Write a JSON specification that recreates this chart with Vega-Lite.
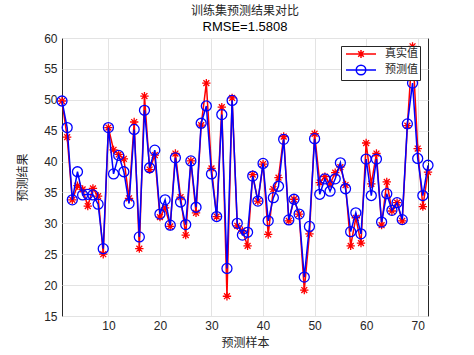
{
  "$schema": "https://vega.github.io/schema/vega-lite/v6.json",
  "width": 366,
  "height": 278,
  "autosize": {"type": "none"},
  "padding": {"left": 62, "top": 38, "right": 46, "bottom": 39},
  "background": "white",
  "title": {
    "text": "训练集预测结果对比",
    "subtitle": "RMSE=1.5808",
    "font": "Noto Sans CJK SC",
    "fontSize": 12,
    "fontWeight": "normal",
    "color": "#262626",
    "subtitleFont": "Liberation Sans",
    "subtitleFontSize": 13,
    "subtitleColor": "#000000",
    "subtitlePadding": 3,
    "offset": -3,
    "anchor": "middle",
    "frame": "group"
  },
  "config": {
    "view": {"stroke": "#262626", "strokeWidth": 1},
    "axis": {
      "domain": false,
      "ticks": false,
      "grid": true,
      "gridColor": "#e3e3e3",
      "gridWidth": 1,
      "labelOverlap": false,
      "labelFont": "Liberation Sans",
      "labelFontSize": 12,
      "labelColor": "#262626",
      "titleFont": "Noto Sans CJK SC",
      "titleFontSize": 12,
      "titleFontWeight": "normal",
      "titleColor": "#262626"
    }
  },
  "data": {
    "values": [
      {"i":1,"真实值":49.8,"预测值":49.8},{"i":2,"真实值":43.95,"预测值":45.5},{"i":3,"真实值":33.8,"预测值":33.8},{"i":4,"真实值":36.1,"预测值":38.35},
      {"i":5,"真实值":35.5,"预测值":34.6},{"i":6,"真实值":32.8,"预测值":34.7},{"i":7,"真实值":35.65,"预测值":34.6},{"i":8,"真实值":34.4,"预测值":33.1},
      {"i":9,"真实值":25.0,"预测值":25.9},{"i":10,"真实值":45.5,"预测值":45.5},{"i":11,"真实值":41.9,"预测值":38.0},{"i":12,"真实值":41.15,"预测值":41.0},
      {"i":13,"真实值":40.45,"预测值":38.35},{"i":14,"真实值":34.05,"预测值":33.2},{"i":15,"真实值":46.4,"预测值":45.2},{"i":16,"真实值":25.9,"预测值":27.8},
      {"i":17,"真实值":50.6,"预测值":48.3},{"i":18,"真实值":38.7,"预测值":39.0},{"i":19,"真实值":41.05,"预测值":41.85},{"i":20,"真实值":31.0,"预测值":31.5},
      {"i":21,"真实值":32.5,"预测值":33.8},{"i":22,"真实值":29.5,"预测值":29.7},{"i":23,"真实值":41.3,"预测值":40.6},{"i":24,"真实值":34.25,"预测值":33.45},
      {"i":25,"真实值":28.1,"预测值":29.8},{"i":26,"真实值":40.1,"预测值":40.1},{"i":27,"真实值":31.7,"预测值":32.6},{"i":28,"真实值":45.9,"预测值":46.2},
      {"i":29,"真实值":52.7,"预测值":49.0},{"i":30,"真实值":38.9,"预测值":38.0},{"i":31,"真实值":31.1,"预测值":31.1},{"i":32,"真实值":48.8,"预测值":47.6},
      {"i":33,"真实值":18.2,"预测值":22.7},{"i":34,"真实值":50.3,"预测值":49.9},{"i":35,"真实值":29.6,"预测值":30.0},{"i":36,"真实值":28.8,"预测值":28.1},
      {"i":37,"真实值":26.35,"预测值":28.55},{"i":38,"真实值":37.9,"预测值":37.65},{"i":39,"真实值":33.6,"预测值":33.6},{"i":40,"真实值":39.6,"预测值":39.7},
      {"i":41,"真实值":28.2,"预测值":30.4},{"i":42,"真实值":35.55,"预测值":34.15},{"i":43,"真实值":37.4,"预测值":36.0},{"i":44,"真实值":44.05,"预测值":43.6},
      {"i":45,"真实值":30.4,"预测值":30.55},{"i":46,"真实值":33.9,"预测值":33.9},{"i":47,"真实值":31.5,"预测值":31.5},{"i":48,"真实值":19.2,"预测值":21.3},
      {"i":49,"真实值":28.3,"预测值":29.5},{"i":50,"真实值":44.5,"预测值":43.7},{"i":51,"真实值":36.6,"预测值":34.7},{"i":52,"真实值":37.55,"预测值":37.2},
      {"i":53,"真实值":36.4,"预测值":35.2},{"i":54,"真实值":38.2,"预测值":37.2},{"i":55,"真实值":39.1,"预测值":39.8},{"i":56,"真实值":36.2,"预测值":35.6},
      {"i":57,"真实值":26.35,"预测值":28.65},{"i":58,"真实值":30.9,"预测值":31.7},{"i":59,"真实值":26.8,"预测值":28.3},{"i":60,"真实值":43.0,"预测值":40.4},
      {"i":61,"真实值":36.4,"预测值":34.5},{"i":62,"真实值":41.3,"预测值":40.4},{"i":63,"真实值":29.7,"预测值":30.2},{"i":64,"真实值":36.7,"预测值":34.8},
      {"i":65,"真实值":32.0,"预测值":32.1},{"i":66,"真实值":33.35,"预测值":33.35},{"i":67,"真实值":30.4,"预测值":30.6},{"i":68,"真实值":45.8,"预测值":46.1},
      {"i":69,"真实值":58.65,"预测值":52.7},{"i":70,"真实值":42.1,"预测值":40.5},{"i":71,"真实值":32.7,"预测值":34.5},{"i":72,"真实值":38.3,"预测值":39.4}
    ]
  },
  "transform": [{"fold": ["真实值", "预测值"], "as": ["s", "v"]}],
  "encoding": {
    "x": {
      "field": "i", "type": "quantitative",
      "scale": {"domain": [1, 72], "nice": false, "zero": false},
      "axis": {"values": [10, 20, 30, 40, 50, 60, 70], "title": "预测样本", "labelPadding": 4, "titlePadding": 6, "labelOverlap": false}
    },
    "y": {
      "field": "v", "type": "quantitative",
      "scale": {"domain": [15, 60], "nice": false, "zero": false},
      "axis": {"values": [15, 20, 25, 30, 35, 40, 45, 50, 55, 60], "title": "预测结果", "labelPadding": 5, "titlePadding": 14, "labelOverlap": false, "labelFlush": false}
    },
    "color": {
      "field": "s",
      "type": "nominal",
      "scale": {"domain": ["真实值", "预测值"], "range": ["#ff0000", "#0000ff"]},
      "legend": {
        "title": null,
        "orient": "top-right",
        "offset": 8,
        "padding": 2,
        "rowPadding": 1,
        "fillColor": "white",
        "strokeColor": "#262626",
        "cornerRadius": 0,
        "labelFont": "Noto Sans CJK SC",
        "labelFontSize": 11,
        "labelColor": "#262626",
        "symbolSize": 100,
        "symbolStrokeWidth": 1.5,
        "symbolOffset": 12,
        "labelOffset": 18,
        "encode": {
          "symbols": {
            "update": {
              "shape": {"signal": "datum.value === '真实值' ? 'M-3,0L3,0M-0.8,0L0.8,0M0,-0.8L0,0.8M-0.56,-0.56L0.56,0.56M-0.56,0.56L0.56,-0.56' : 'M-3,0L3,0M-0.95,0A0.95,0.95,0,1,1,0.95,0A0.95,0.95,0,1,1,-0.95,0'"},
              "fill": {"value": "transparent"},
              "strokeWidth": {"value": 1.5}
            }
          }
        }
      }
    }
  },
  "layer": [
    {
      "transform": [{"filter": "datum.s === '真实值'"}],
      "mark": {"type": "line", "strokeWidth": 1.5}
    },
    {
      "transform": [{"filter": "datum.s === '真实值'"}],
      "mark": {"type": "point", "filled": false, "strokeWidth": 1.3, "size": 70, "opacity": 1, "shape": "M-1,0L1,0M0,-1L0,1M-0.7,-0.7L0.7,0.7M-0.7,0.7L0.7,-0.7"}
    },
    {
      "transform": [{"filter": "datum.s === '预测值'"}],
      "mark": {"type": "line", "strokeWidth": 1.5}
    },
    {
      "transform": [{"filter": "datum.s === '预测值'"}],
      "mark": {"type": "point", "filled": false, "strokeWidth": 1.3, "size": 100, "opacity": 1, "shape": "circle"}
    }
  ]
}
